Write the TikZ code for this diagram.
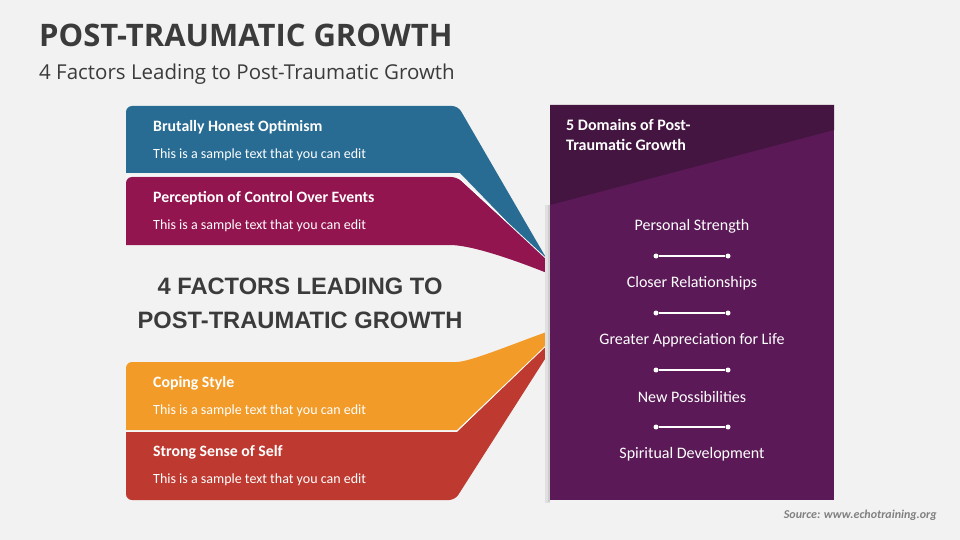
\documentclass[tikz,border=0pt]{standalone}
\usepackage{fontspec}
\setmainfont{Carlito}
\newfontfamily\osans{Open Sans}
\newfontfamily\lsans{Liberation Sans}
\begin{document}
\begin{tikzpicture}[x=1pt,y=-1pt,
  head/.style={anchor=west,text=white,font=\bfseries\fontsize{15.8}{18}\selectfont},
  body/.style={anchor=west,text=white,font=\fontsize{14}{16}\selectfont},
  dom/.style={text=white,font=\fontsize{16}{18}\selectfont},
  link/.style={white,line width=1.3pt},
  dot/.style={circle,fill=white,inner sep=0pt,minimum size=5pt}]
\definecolor{bg}{HTML}{F2F2F2}
\definecolor{cblue}{HTML}{286C93}
\definecolor{cmag}{HTML}{93154F}
\definecolor{corg}{HTML}{F29B28}
\definecolor{cred}{HTML}{BE3A30}
\definecolor{cpur}{HTML}{5B1A57}
\definecolor{cdark}{HTML}{431540}
\definecolor{ctxt}{HTML}{3B3B3B}
\fill[bg] (0,0) rectangle (960,540);
\useasboundingbox (0,0) rectangle (960,540);
\node[anchor=west,inner sep=0pt,text=ctxt,font=\osans\bfseries\fontsize{31}{34}\selectfont] (title) at (39,35) {POST-TRAUMATIC GROWTH};
\node[anchor=west,inner sep=0pt,text=ctxt,font=\osans\fontsize{20.5}{22}\selectfont] (sub) at (39,74) {4 Factors Leading to Post-Traumatic Growth};
% ribbons
\fill[cblue,rounded corners=6pt] (126,173) -- (126,106) -- (458,106) [sharp corners] -- (552,268) -- (460,173) -- cycle;
\fill[cmag,rounded corners=6pt] (126,245) -- (126,177) -- (457,177) [sharp corners]-- (552,264) -- (552,275) .. controls (510,258) and (470,245) .. (450,245) -- cycle;
\draw[white,line width=0.8pt] (126,176) -- (457,176) -- (552,264);
\fill[cred,rounded corners=6pt] (126,432) -- (126,500) -- (455,500) [sharp corners] -- (552,348) -- (552,340) -- (457,432) -- cycle;
\fill[corg,rounded corners=6pt] (126,430) -- (126,362) -- (450,362) [sharp corners] .. controls (470,362) and (510,345) .. (552,330) -- (552,340) -- (457,430) -- cycle;
\draw[white,line width=0.8pt] (126,431) -- (457,431) -- (552,340);
\node[head,inner sep=0pt] (h1) at (153,127) {Brutally Honest Optimism};
\node[body,inner sep=0pt] (b1) at (153,155) {This is a sample text that you can edit};
\node[head,inner sep=0pt] (h2) at (153,198) {Perception of Control Over Events};
\node[body,inner sep=0pt] (b2) at (153,226) {This is a sample text that you can edit};
\node[head,inner sep=0pt] (h3) at (153,383) {Coping Style};
\node[body,inner sep=0pt] (b3) at (153,411) {This is a sample text that you can edit};
\node[head,inner sep=0pt] (h4) at (153,452) {Strong Sense of Self};
\node[body,inner sep=0pt] (b4) at (153,480) {This is a sample text that you can edit};
\node[text=ctxt,align=center,font=\lsans\bfseries\fontsize{23.7}{34}\selectfont] (mid) at (300,303) {4 FACTORS LEADING TO\\POST-TRAUMATIC GROWTH};
% purple box
\fill[black!12] (545,205) rectangle (550,503);
\fill[black!20] (548,205) rectangle (550,502);
\fill[cpur] (550,105) rectangle (834,500);
\fill[cdark] (550,105) -- (834,105) -- (834,130) -- (550,205) -- cycle;
\node[anchor=north west,inner sep=0pt,align=left,text=white,font=\bfseries\fontsize{16}{20}\selectfont] (dh) at (566,119) {5 Domains of Post-\\Traumatic Growth};
\foreach \t [count=\i] in {Personal Strength,Closer Relationships,Greater Appreciation for Life,New Possibilities,Spiritual Development}{
  \node[dom] (d\i) at (692,169+57*\i) {\t};
}
\foreach \i in {1,...,4}{
  \node[dot] (l\i) at (656,199+57*\i) {};
  \node[dot] (r\i) at (728,199+57*\i) {};
  \draw[link] (l\i) -- (r\i);
}
\node[anchor=east,inner sep=0pt,text=gray,font=\itshape\bfseries\fontsize{12}{14}\selectfont] (src) at (937,515) {Source: www.echotraining.org};
\end{tikzpicture}
\end{document}
